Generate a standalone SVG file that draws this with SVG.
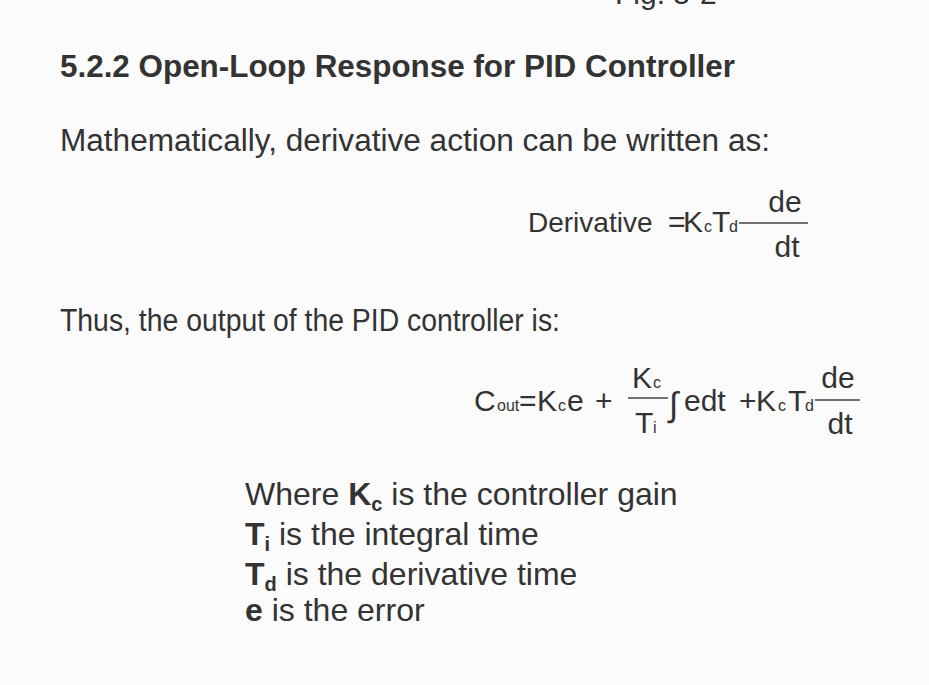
<svg xmlns="http://www.w3.org/2000/svg" width="929" height="685" viewBox="0 0 929 685">
<style>
text{font-family:"Liberation Sans",Arial,sans-serif;fill:#333;}
.b{font-size:31px;}
.l{font-size:32px;}
.h{font-size:31px;font-weight:bold;}
.m{font-size:30px;}
.s{font-size:16px;}
.k{font-weight:bold;}
line{stroke:#444;stroke-width:1.5;}
</style>
<rect width="929" height="685" fill="#fbfbfb"/>
<text class="m" x="615" y="4">Fig. 5-2</text>
<text class="h" x="60" y="77" textLength="675" lengthAdjust="spacingAndGlyphs">5.2.2 Open-Loop Response for PID Controller</text>
<text class="b" x="60" y="151" textLength="710" lengthAdjust="spacingAndGlyphs">Mathematically, derivative action can be written as:</text>
<g id="derivative">
<text x="528" y="232" font-size="28">Derivative</text>
<text class="m" x="668" y="232">=</text>
<text class="m" x="683" y="232">K</text>
<text class="s" x="704" y="232">c</text>
<text class="m" x="712" y="232">T</text>
<text class="s" x="729" y="232">d</text>
<line x1="739" y1="223" x2="808" y2="223"/>
<text class="m" x="785" y="212" text-anchor="middle">de</text>
<text class="m" x="787" y="257" text-anchor="middle">dt</text>
</g>
<text class="b" x="60" y="331" textLength="500" lengthAdjust="spacingAndGlyphs">Thus, the output of the PID controller is:</text>
<g id="cout">
<text class="m" x="474" y="411">C</text>
<text class="s" x="497" y="411">out</text>
<text class="m" x="519" y="411">=</text>
<text class="m" x="537" y="411">K</text>
<text class="s" x="558" y="411">c</text>
<text class="m" x="567" y="411">e</text>
<text class="m" x="595" y="411">+</text>
<line x1="628" y1="398" x2="668" y2="398"/>
<text class="m" x="632" y="388">K</text>
<text class="s" x="653" y="388">c</text>
<text class="m" x="635" y="433">T</text>
<text class="s" x="653" y="433">i</text>
<text x="669" y="416" font-size="34">∫</text>
<text class="m" x="684" y="411">edt</text>
<text class="m" x="739" y="411">+</text>
<text class="m" x="756" y="411">K</text>
<text class="s" x="778" y="411">c</text>
<text class="m" x="788" y="411">T</text>
<text class="s" x="805" y="411">d</text>
<line x1="815" y1="400" x2="860" y2="400"/>
<text class="m" x="838" y="388" text-anchor="middle">de</text>
<text class="m" x="840" y="434" text-anchor="middle">dt</text>
</g>
<g id="legend">
<text class="l" x="245" y="505">Where <tspan class="k">K<tspan font-size="20" dy="6">c</tspan></tspan><tspan dy="-6"> is the controller gain</tspan></text>
<text class="l" x="245" y="545"><tspan class="k">T<tspan font-size="20" dy="6">i</tspan></tspan><tspan dy="-6"> is the integral time</tspan></text>
<text class="l" x="245" y="585"><tspan class="k">T<tspan font-size="20" dy="6">d</tspan></tspan><tspan dy="-6"> is the derivative time</tspan></text>
<text class="l" x="245" y="621"><tspan class="k">e</tspan> is the error</text>
</g>
</svg>
